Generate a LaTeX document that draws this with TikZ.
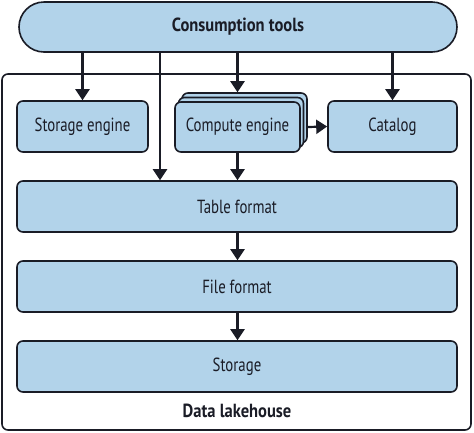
\documentclass[tikz,border=0pt]{standalone}
\usepackage{fontspec}
\setmainfont{PT Sans}[FakeStretch=0.78,BoldFeatures={FakeStretch=0.87}]
\usetikzlibrary{arrows.meta}
\definecolor{boxblue}{RGB}{178,211,234}
\definecolor{ink}{RGB}{26,28,38}

\begin{document}
\begin{tikzpicture}[x=1pt,y=-1pt,
 block/.style={draw=ink,line width=1.6pt,fill=boxblue,rounded corners=6pt,
        minimum height=51pt,inner sep=0pt,text=ink,
        font=\fontsize{19}{22}\selectfont},
 link/.style={draw=ink,line width=2.2pt,-{Triangle[width=14pt,length=11pt]}}]

\useasboundingbox (0,0) rectangle (474,432);

% lakehouse frame
\node[draw=ink,line width=1.6pt,rounded corners=6pt,minimum width=469pt,
      minimum height=356pt,inner sep=0pt] (lake) at (236.5,252) {};
\node[text=ink,font=\bfseries\fontsize{19}{22}\selectfont] (lakelabel) at (237,411) {Data lakehouse};

\node[block,minimum width=438pt,minimum height=50pt,rounded corners=25pt,
      font=\bfseries\fontsize{19}{22}\selectfont] (tools) at (238,27) {Consumption tools};

\node[block,minimum width=131pt] (storeng) at (82.5,126.5) {Storage engine};

% compute engine stack
\node[block,minimum width=125pt,minimum height=50pt] (cback2) at (244.5,118) {};
\node[block,minimum width=125pt,minimum height=50pt] (cback1) at (241,122.5) {};
\node[block,minimum width=125pt,minimum height=50pt] (compute) at (237.5,127) {Compute engine};

\node[block,minimum width=129pt] (catalog) at (392.5,126.5) {Catalog};

\node[block,minimum width=440pt] (table) at (237,206.5) {Table format};
\node[block,minimum width=440pt] (file) at (237,286.5) {File format};
\node[block,minimum width=440pt] (storage) at (237,366.5) {Storage};

\coordinate (drop) at (160,160);

\draw[link] (tools.south -| storeng) -- (storeng.north);
\draw[link] (tools.south -| drop) -- (table.north -| drop);
\draw[link] (tools.south -| compute) -- (cback2.north -| compute);
\draw[link] (tools.south -| catalog) -- (catalog.north);
\draw[link] (cback2.east |- compute) -- (catalog.west);
\draw[link] (compute.south) -- (table.north -| compute);
\draw[link] (table.south -| compute) -- (file.north -| compute);
\draw[link] (file.south -| compute) -- (storage.north -| compute);
\end{tikzpicture}
\end{document}
